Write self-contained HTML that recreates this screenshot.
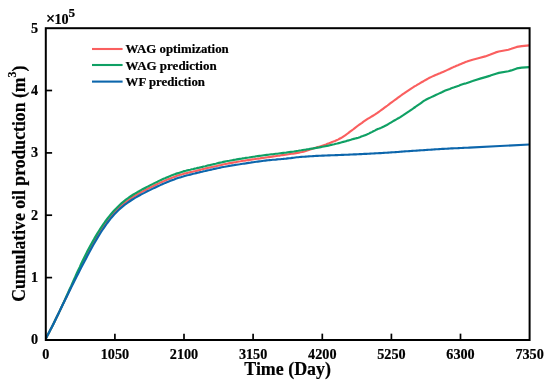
<!DOCTYPE html>
<html><head><meta charset="utf-8"><title>Cumulative oil production</title>
<style>
html,body{margin:0;padding:0;background:#fff;}
svg{display:block;}
text{font-family:"Liberation Serif",serif;font-weight:bold;fill:#000;stroke:#000;stroke-width:0.2px;}
.tk{font-size:14.2px;}
.lb{font-size:17.7px;}
.lg{font-size:12.75px;}
</style></head><body>
<svg width="550" height="383" viewBox="0 0 550 383">
<rect width="550" height="383" fill="#fff"/>
<path d="M45.9,338.4 L47.4,335.6 L48.9,332.7 L50.4,329.8 L51.9,326.9 L53.4,323.9 L54.9,320.9 L56.4,317.8 L57.9,314.7 L59.4,311.6 L60.9,308.5 L62.4,305.3 L63.9,302.1 L65.4,299.0 L66.9,295.8 L68.4,292.6 L69.9,289.4 L71.4,286.2 L72.9,283.0 L74.4,279.9 L75.9,276.7 L77.4,273.6 L78.9,270.5 L80.4,267.4 L81.9,264.4 L83.4,261.4 L84.9,258.4 L86.4,255.5 L87.9,252.6 L89.4,249.8 L90.9,247.0 L92.4,244.3 L93.9,241.6 L95.4,239.0 L96.9,236.5 L98.4,234.0 L99.9,231.7 L101.4,229.3 L102.9,227.1 L104.4,224.9 L105.9,222.8 L107.4,220.7 L108.9,218.8 L110.4,216.9 L111.9,215.1 L113.4,213.4 L114.9,211.8 L116.4,210.2 L117.9,208.7 L119.4,207.3 L120.9,206.0 L122.4,204.7 L123.9,203.4 L125.4,202.3 L126.9,201.1 L128.4,200.0 L129.9,199.0 L131.4,198.0 L132.9,197.0 L134.4,196.1 L135.9,195.2 L137.4,194.3 L138.9,193.5 L140.4,192.7 L141.9,191.9 L143.4,191.1 L144.9,190.3 L146.4,189.5 L147.9,188.8 L149.4,188.0 L150.9,187.3 L152.4,186.5 L153.9,185.8 L155.4,185.0 L156.9,184.3 L158.4,183.6 L159.9,182.9 L161.4,182.2 L162.9,181.6 L164.4,180.9 L165.9,180.2 L167.4,179.6 L168.9,179.0 L170.4,178.4 L171.9,177.8 L173.4,177.2 L174.9,176.7 L176.4,176.1 L177.9,175.6 L179.4,175.1 L180.9,174.6 L182.4,174.2 L183.9,173.7 L185.0,173.4 L186.5,173.1 L188.0,172.7 L189.5,172.4 L191.0,172.0 L192.5,171.7 L194.0,171.3 L195.5,171.0 L197.0,170.6 L198.5,170.2 L200.0,169.9 L201.5,169.5 L203.0,169.1 L204.5,168.8 L206.0,168.4 L207.5,168.0 L209.0,167.7 L210.5,167.4 L212.0,167.0 L213.5,166.7 L215.0,166.3 L216.5,166.0 L218.0,165.6 L219.5,165.3 L221.0,165.0 L222.5,164.6 L224.0,164.3 L225.5,164.0 L227.0,163.7 L228.5,163.4 L230.0,163.1 L231.5,162.9 L233.0,162.6 L234.5,162.3 L236.0,162.1 L237.5,161.8 L239.0,161.5 L240.5,161.3 L242.0,161.0 L243.5,160.8 L245.0,160.6 L246.5,160.3 L248.0,160.1 L249.5,159.9 L251.0,159.6 L252.5,159.4 L254.0,159.2 L255.5,159.0 L257.0,158.8 L258.5,158.6 L260.0,158.4 L261.5,158.1 L263.0,157.9 L264.5,157.7 L266.0,157.5 L267.5,157.3 L269.0,157.1 L270.5,156.9 L272.0,156.6 L273.5,156.4 L275.0,156.2 L276.5,156.0 L278.0,155.8 L279.5,155.6 L281.0,155.3 L282.5,155.1 L284.0,154.9 L285.5,154.7 L287.0,154.5 L288.5,154.2 L290.0,154.0 L291.5,153.8 L293.0,153.6 L294.5,153.4 L296.0,153.1 L297.5,152.9 L299.0,152.6 L300.5,152.3 L302.0,152.0 L303.5,151.6 L305.0,151.2 L306.5,150.8 L308.0,150.3 L309.5,149.8 L311.0,149.3 L312.5,148.8 L314.0,148.3 L315.5,147.8 L317.0,147.3 L318.5,146.9 L320.0,146.4 L321.5,145.9 L323.0,145.4 L324.5,144.9 L326.0,144.4 L327.5,143.8 L329.0,143.3 L330.5,142.7 L332.0,142.1 L333.5,141.6 L335.0,141.0 L336.5,140.3 L338.0,139.6 L339.5,138.8 L341.0,138.0 L342.5,137.1 L344.0,136.1 L345.5,135.1 L347.0,134.0 L348.5,132.9 L350.0,131.7 L351.5,130.6 L353.0,129.5 L354.5,128.3 L356.0,127.2 L357.5,126.0 L359.0,124.9 L360.5,123.8 L362.0,122.8 L363.5,121.7 L365.0,120.7 L366.5,119.7 L368.0,118.7 L369.5,117.8 L371.0,116.9 L372.5,116.0 L374.0,115.1 L375.5,114.2 L377.0,113.2 L378.5,112.1 L380.0,111.0 L381.5,109.9 L383.0,108.8 L384.5,107.7 L386.0,106.6 L387.5,105.5 L389.0,104.3 L390.5,103.2 L392.0,102.1 L393.5,101.0 L395.0,99.9 L396.5,98.8 L398.0,97.7 L399.5,96.6 L401.0,95.5 L402.5,94.4 L404.0,93.4 L405.5,92.3 L407.0,91.3 L408.5,90.3 L410.0,89.3 L411.5,88.3 L413.0,87.4 L414.5,86.4 L416.0,85.6 L417.5,84.7 L419.0,83.8 L420.5,82.9 L422.0,82.0 L423.5,81.2 L425.0,80.3 L426.5,79.5 L428.0,78.6 L429.5,77.8 L431.0,77.1 L432.5,76.4 L434.0,75.7 L435.5,75.0 L437.0,74.4 L438.5,73.8 L440.0,73.2 L441.5,72.5 L443.0,71.9 L444.5,71.3 L446.0,70.6 L447.5,69.9 L449.0,69.2 L450.5,68.5 L452.0,67.8 L453.5,67.1 L455.0,66.5 L456.5,65.8 L458.0,65.2 L459.5,64.5 L461.0,63.9 L462.5,63.3 L464.0,62.7 L465.5,62.1 L467.0,61.6 L468.5,61.0 L472.6,59.7 L479.2,58.0 L485.2,56.4 L490.4,54.6 L495.7,52.4 L498.8,51.5 L508.4,49.7 L511.3,48.8 L516.8,46.9 L521.8,46.1 L529.4,45.4" fill="none" stroke="#fa5f5f" stroke-width="2.15" stroke-linejoin="round"/>
<path d="M45.9,338.4 L47.4,335.6 L48.9,332.7 L50.4,329.8 L51.9,326.9 L53.4,323.9 L54.9,320.8 L56.4,317.8 L57.9,314.7 L59.4,311.6 L60.9,308.4 L62.4,305.3 L63.8,302.1 L65.3,298.9 L66.7,295.7 L68.2,292.5 L69.6,289.3 L71.1,286.1 L72.5,282.9 L73.9,279.7 L75.4,276.5 L76.8,273.3 L78.2,270.2 L79.7,267.1 L81.1,264.0 L82.5,261.0 L84.0,258.0 L85.5,255.0 L86.9,252.1 L88.4,249.3 L89.9,246.5 L91.4,243.7 L92.9,241.1 L94.4,238.4 L95.9,235.9 L97.4,233.4 L98.9,231.0 L100.4,228.7 L101.9,226.4 L103.4,224.2 L104.9,222.0 L106.4,220.0 L107.9,218.0 L109.4,216.1 L110.9,214.3 L112.4,212.5 L113.9,210.8 L115.4,209.2 L116.9,207.7 L118.4,206.2 L119.9,204.8 L121.4,203.4 L122.9,202.1 L124.4,200.9 L125.9,199.7 L127.4,198.6 L128.9,197.5 L130.4,196.5 L131.9,195.5 L133.4,194.5 L134.9,193.6 L136.5,192.7 L138.0,191.8 L139.5,191.0 L141.0,190.1 L142.5,189.3 L144.0,188.5 L145.5,187.7 L147.0,186.9 L148.5,186.2 L150.0,185.4 L151.5,184.6 L153.0,183.9 L154.5,183.1 L156.0,182.4 L157.5,181.7 L159.0,180.9 L160.5,180.2 L162.0,179.5 L163.5,178.8 L165.0,178.2 L166.5,177.5 L168.0,176.9 L169.6,176.3 L171.1,175.6 L172.6,175.1 L174.1,174.5 L175.6,173.9 L177.2,173.4 L178.7,172.9 L180.2,172.4 L181.7,171.9 L183.2,171.4 L184.3,171.1 L185.8,170.8 L187.3,170.4 L188.8,170.0 L190.3,169.7 L191.8,169.3 L193.3,169.0 L194.8,168.6 L196.3,168.3 L197.8,167.9 L199.3,167.6 L200.8,167.2 L202.3,166.9 L203.8,166.5 L205.3,166.2 L206.8,165.8 L208.3,165.4 L209.8,165.1 L211.3,164.7 L212.8,164.4 L214.3,164.0 L215.8,163.7 L217.3,163.3 L218.8,162.9 L220.3,162.6 L221.8,162.3 L223.3,161.9 L224.8,161.6 L226.3,161.3 L227.8,161.0 L229.3,160.8 L230.8,160.5 L232.3,160.2 L233.8,159.9 L235.3,159.7 L236.8,159.4 L238.3,159.1 L239.8,158.9 L241.3,158.7 L242.8,158.4 L244.3,158.2 L245.8,157.9 L247.3,157.7 L248.8,157.5 L250.3,157.2 L251.8,157.0 L253.3,156.8 L254.8,156.6 L256.3,156.3 L257.8,156.1 L259.3,155.9 L260.8,155.7 L262.3,155.5 L263.8,155.3 L265.3,155.1 L266.8,154.9 L268.3,154.7 L269.8,154.5 L271.3,154.3 L272.8,154.2 L274.3,154.0 L275.8,153.8 L277.3,153.7 L278.8,153.5 L280.3,153.3 L281.8,153.1 L283.3,152.9 L284.8,152.8 L286.3,152.6 L287.8,152.3 L289.3,152.1 L290.8,151.9 L292.3,151.7 L293.8,151.5 L295.3,151.2 L296.8,151.0 L298.3,150.8 L299.8,150.5 L301.3,150.3 L302.8,150.0 L304.3,149.8 L305.8,149.6 L307.3,149.3 L308.8,149.1 L310.3,148.8 L311.8,148.6 L313.3,148.4 L314.8,148.1 L316.3,147.9 L317.8,147.6 L319.3,147.4 L320.8,147.1 L322.3,146.8 L323.8,146.5 L325.3,146.2 L326.8,145.9 L328.3,145.6 L329.8,145.2 L331.3,144.9 L332.8,144.5 L334.3,144.2 L335.8,143.8 L337.3,143.5 L338.8,143.1 L340.3,142.7 L341.8,142.3 L343.3,141.9 L344.8,141.5 L346.3,141.1 L347.8,140.6 L349.3,140.2 L350.8,139.8 L352.3,139.3 L353.8,138.9 L355.3,138.5 L356.8,138.1 L358.3,137.7 L359.8,137.2 L361.3,136.6 L362.8,136.1 L364.3,135.5 L365.8,134.9 L367.3,134.3 L368.8,133.6 L370.3,132.8 L371.8,132.1 L373.3,131.3 L374.8,130.6 L376.3,129.7 L377.8,129.0 L379.3,128.5 L380.8,127.9 L382.3,127.2 L383.8,126.5 L385.3,125.7 L386.8,125.0 L388.3,124.1 L389.8,123.2 L391.3,122.3 L392.8,121.4 L394.3,120.5 L395.8,119.7 L397.3,118.8 L398.8,118.0 L400.3,117.1 L401.8,116.1 L403.3,115.2 L404.8,114.2 L406.3,113.2 L407.8,112.2 L409.3,111.2 L410.8,110.1 L412.3,109.1 L413.8,108.0 L415.3,107.0 L416.8,105.9 L418.3,104.9 L419.8,103.9 L421.3,102.8 L422.8,101.7 L424.3,100.7 L425.8,99.8 L427.3,99.0 L428.8,98.3 L430.3,97.6 L431.8,96.9 L433.3,96.2 L434.8,95.5 L436.3,94.8 L437.8,94.1 L439.3,93.4 L440.8,92.7 L442.3,92.0 L443.8,91.2 L445.3,90.6 L446.8,90.0 L448.3,89.4 L449.8,88.9 L451.3,88.3 L452.8,87.8 L454.3,87.3 L455.8,86.7 L457.3,86.2 L458.8,85.7 L460.3,85.1 L461.8,84.6 L463.3,84.1 L464.8,83.6 L466.3,83.2 L467.8,82.7 L469.3,82.2 L472.6,81.1 L475.0,80.2 L481.0,78.4 L485.5,77.1 L490.4,75.6 L496.0,73.7 L498.8,72.9 L508.4,71.3 L511.3,70.4 L516.8,68.4 L521.8,67.6 L529.4,67.1" fill="none" stroke="#0fa064" stroke-width="2.15" stroke-linejoin="round"/>
<path d="M45.9,338.4 L47.4,335.6 L48.9,332.7 L50.4,329.8 L51.9,326.9 L53.4,323.9 L54.9,320.9 L56.4,317.8 L57.9,314.7 L59.4,311.6 L60.9,308.5 L62.4,305.3 L64.0,302.2 L65.5,299.0 L67.1,295.9 L68.6,292.7 L70.2,289.5 L71.7,286.4 L73.3,283.2 L74.9,280.1 L76.4,277.0 L78.0,273.9 L79.6,270.8 L81.1,267.8 L82.7,264.8 L84.3,261.8 L85.8,258.9 L87.3,256.0 L88.9,253.1 L90.4,250.3 L91.9,247.5 L93.4,244.8 L94.9,242.2 L96.4,239.6 L97.9,237.1 L99.4,234.7 L100.9,232.3 L102.4,230.0 L103.9,227.8 L105.4,225.6 L106.9,223.5 L108.4,221.5 L109.9,219.6 L111.4,217.7 L112.9,216.0 L114.4,214.3 L115.9,212.7 L117.4,211.2 L118.9,209.8 L120.4,208.4 L121.9,207.1 L123.4,205.9 L124.9,204.7 L126.4,203.6 L127.9,202.5 L129.4,201.5 L130.9,200.5 L132.4,199.5 L133.9,198.6 L135.4,197.7 L136.9,196.8 L138.3,196.0 L139.8,195.2 L141.3,194.4 L142.8,193.6 L144.3,192.9 L145.8,192.1 L147.3,191.3 L148.8,190.6 L150.3,189.9 L151.8,189.1 L153.3,188.4 L154.8,187.7 L156.3,187.0 L157.8,186.3 L159.3,185.6 L160.8,184.9 L162.3,184.2 L163.8,183.6 L165.3,182.9 L166.8,182.3 L168.3,181.7 L169.8,181.1 L171.2,180.5 L172.7,179.9 L174.2,179.4 L175.7,178.8 L177.2,178.3 L178.6,177.8 L180.1,177.4 L181.6,176.9 L183.1,176.5 L184.6,176.0 L185.7,175.7 L187.2,175.3 L188.7,175.0 L190.2,174.6 L191.7,174.2 L193.2,173.8 L194.7,173.5 L196.2,173.1 L197.7,172.7 L199.2,172.4 L200.7,172.0 L202.2,171.7 L203.7,171.3 L205.2,171.0 L206.7,170.6 L208.2,170.3 L209.7,170.0 L211.2,169.6 L212.7,169.3 L214.2,168.9 L215.7,168.6 L217.2,168.3 L218.7,168.0 L220.2,167.6 L221.7,167.3 L223.2,167.0 L224.7,166.8 L226.2,166.5 L227.7,166.2 L229.2,165.9 L230.7,165.7 L232.2,165.4 L233.7,165.2 L235.2,164.9 L236.7,164.7 L238.2,164.5 L239.7,164.3 L241.2,164.0 L242.7,163.8 L244.2,163.6 L245.7,163.4 L247.2,163.1 L248.7,162.9 L250.2,162.7 L251.7,162.4 L253.2,162.2 L254.7,162.0 L256.2,161.8 L257.7,161.6 L259.2,161.4 L260.7,161.2 L262.2,161.0 L263.7,160.8 L265.2,160.6 L266.7,160.4 L268.2,160.3 L269.7,160.1 L271.2,160.0 L272.7,159.8 L274.2,159.7 L275.7,159.6 L277.2,159.4 L278.7,159.3 L280.2,159.2 L281.7,159.0 L283.2,158.9 L284.7,158.7 L286.2,158.6 L287.7,158.4 L289.2,158.2 L290.7,158.1 L292.2,157.9 L293.7,157.7 L295.2,157.5 L296.7,157.3 L298.2,157.2 L299.7,157.0 L301.2,156.9 L302.7,156.8 L304.2,156.7 L305.7,156.6 L307.2,156.5 L308.7,156.4 L310.2,156.3 L311.7,156.2 L313.2,156.1 L314.7,156.0 L316.2,155.9 L317.7,155.9 L319.2,155.8 L320.7,155.7 L322.2,155.6 L323.7,155.6 L325.2,155.5 L326.7,155.5 L328.2,155.4 L329.7,155.4 L331.2,155.3 L332.7,155.2 L334.2,155.2 L335.7,155.1 L337.2,155.1 L338.7,155.0 L340.2,155.0 L341.7,154.9 L343.2,154.9 L344.7,154.8 L346.2,154.7 L347.7,154.7 L349.2,154.6 L350.7,154.5 L352.2,154.5 L353.7,154.4 L355.2,154.3 L356.7,154.3 L358.2,154.2 L359.7,154.1 L361.2,154.1 L362.7,154.0 L364.2,153.9 L365.7,153.8 L367.2,153.8 L368.7,153.7 L370.2,153.6 L371.7,153.5 L373.2,153.5 L374.7,153.4 L376.2,153.3 L377.7,153.2 L379.2,153.1 L380.7,153.1 L382.2,153.0 L383.7,152.9 L385.2,152.8 L386.7,152.7 L388.2,152.6 L389.7,152.5 L391.2,152.4 L392.7,152.3 L394.2,152.2 L395.7,152.1 L397.2,152.0 L398.7,151.9 L400.2,151.7 L401.7,151.6 L403.2,151.5 L404.7,151.4 L406.2,151.3 L407.7,151.2 L409.2,151.1 L410.7,151.0 L412.2,150.9 L413.7,150.8 L415.2,150.7 L416.7,150.6 L418.2,150.5 L419.7,150.4 L421.2,150.3 L422.7,150.2 L424.2,150.1 L425.7,150.0 L427.2,149.9 L428.7,149.8 L430.2,149.7 L431.7,149.6 L433.2,149.5 L434.7,149.4 L436.2,149.3 L437.7,149.2 L439.2,149.1 L440.7,149.0 L442.2,148.9 L443.7,148.9 L445.2,148.8 L446.7,148.7 L448.2,148.6 L449.7,148.5 L451.2,148.4 L452.7,148.4 L454.2,148.3 L455.7,148.2 L457.2,148.2 L458.7,148.1 L460.2,148.0 L461.7,148.0 L463.2,147.9 L464.7,147.8 L466.2,147.7 L467.7,147.7 L469.2,147.6 L500.0,146.0 L529.4,144.5" fill="none" stroke="#0c66ac" stroke-width="2.15" stroke-linejoin="round"/>
<rect x="45.8" y="28.2" width="483.8" height="311.8" fill="none" stroke="#000" stroke-width="2"/>
<line x1="114.9" y1="339.95" x2="114.9" y2="333.65" stroke="#000" stroke-width="1.7"/>
<line x1="184.0" y1="339.95" x2="184.0" y2="333.65" stroke="#000" stroke-width="1.7"/>
<line x1="253.1" y1="339.95" x2="253.1" y2="333.65" stroke="#000" stroke-width="1.7"/>
<line x1="322.3" y1="339.95" x2="322.3" y2="333.65" stroke="#000" stroke-width="1.7"/>
<line x1="391.4" y1="339.95" x2="391.4" y2="333.65" stroke="#000" stroke-width="1.7"/>
<line x1="460.5" y1="339.95" x2="460.5" y2="333.65" stroke="#000" stroke-width="1.7"/>
<line x1="45.8" y1="277.6" x2="52.099999999999994" y2="277.6" stroke="#000" stroke-width="1.7"/>
<line x1="45.8" y1="215.2" x2="52.099999999999994" y2="215.2" stroke="#000" stroke-width="1.7"/>
<line x1="45.8" y1="152.9" x2="52.099999999999994" y2="152.9" stroke="#000" stroke-width="1.7"/>
<line x1="45.8" y1="90.5" x2="52.099999999999994" y2="90.5" stroke="#000" stroke-width="1.7"/>
<text transform="translate(45.8,359) scale(1,1.03)" text-anchor="middle" class="tk">0</text>
<text transform="translate(114.9,359) scale(1,1.03)" text-anchor="middle" class="tk">1050</text>
<text transform="translate(184.0,359) scale(1,1.03)" text-anchor="middle" class="tk">2100</text>
<text transform="translate(253.1,359) scale(1,1.03)" text-anchor="middle" class="tk">3150</text>
<text transform="translate(322.3,359) scale(1,1.03)" text-anchor="middle" class="tk">4200</text>
<text transform="translate(391.4,359) scale(1,1.03)" text-anchor="middle" class="tk">5250</text>
<text transform="translate(460.5,359) scale(1,1.03)" text-anchor="middle" class="tk">6300</text>
<text transform="translate(529.6,359) scale(1,1.03)" text-anchor="middle" class="tk">7350</text>
<text x="38.2" y="344.4" text-anchor="end" class="tk">0</text>
<text x="38.2" y="282.1" text-anchor="end" class="tk">1</text>
<text x="38.2" y="219.8" text-anchor="end" class="tk">2</text>
<text x="38.2" y="157.4" text-anchor="end" class="tk">3</text>
<text x="38.2" y="95.0" text-anchor="end" class="tk">4</text>
<text x="38.2" y="32.7" text-anchor="end" class="tk">5</text>
<text x="45.9" y="24.3" class="tk" font-size="16" style="font-size:16px">×</text><text x="54.5" y="24" class="tk">10</text><text x="68.5" y="17.3" class="tk" style="font-size:13.2px">5</text>
<text transform="translate(24.9,183.6) rotate(-90) scale(1,1.10)" text-anchor="middle" class="lb">Cumulative oil production (m<tspan dy="-8.5" font-size="12">3</tspan><tspan dy="8.5">)</tspan></text>
<text transform="translate(287.6,374.6) scale(1,1)" text-anchor="middle" class="lb" style="font-size:17.9px">Time (Day)</text>
<line x1="92" y1="49.0" x2="122.6" y2="49.0" stroke="#fa5f5f" stroke-width="2.1"/>
<text transform="translate(125.6,53.4) scale(1.008,1)" class="lg">WAG optimization</text>
<line x1="92" y1="65.0" x2="122.6" y2="65.0" stroke="#0fa064" stroke-width="2.1"/>
<text transform="translate(125.6,69.6) scale(1.02,1)" class="lg">WAG prediction</text>
<line x1="92" y1="81.6" x2="122.6" y2="81.6" stroke="#0c66ac" stroke-width="2.1"/>
<text transform="translate(125.6,85.8) scale(1.006,1)" class="lg">WF prediction</text>
</svg>
</body></html>
